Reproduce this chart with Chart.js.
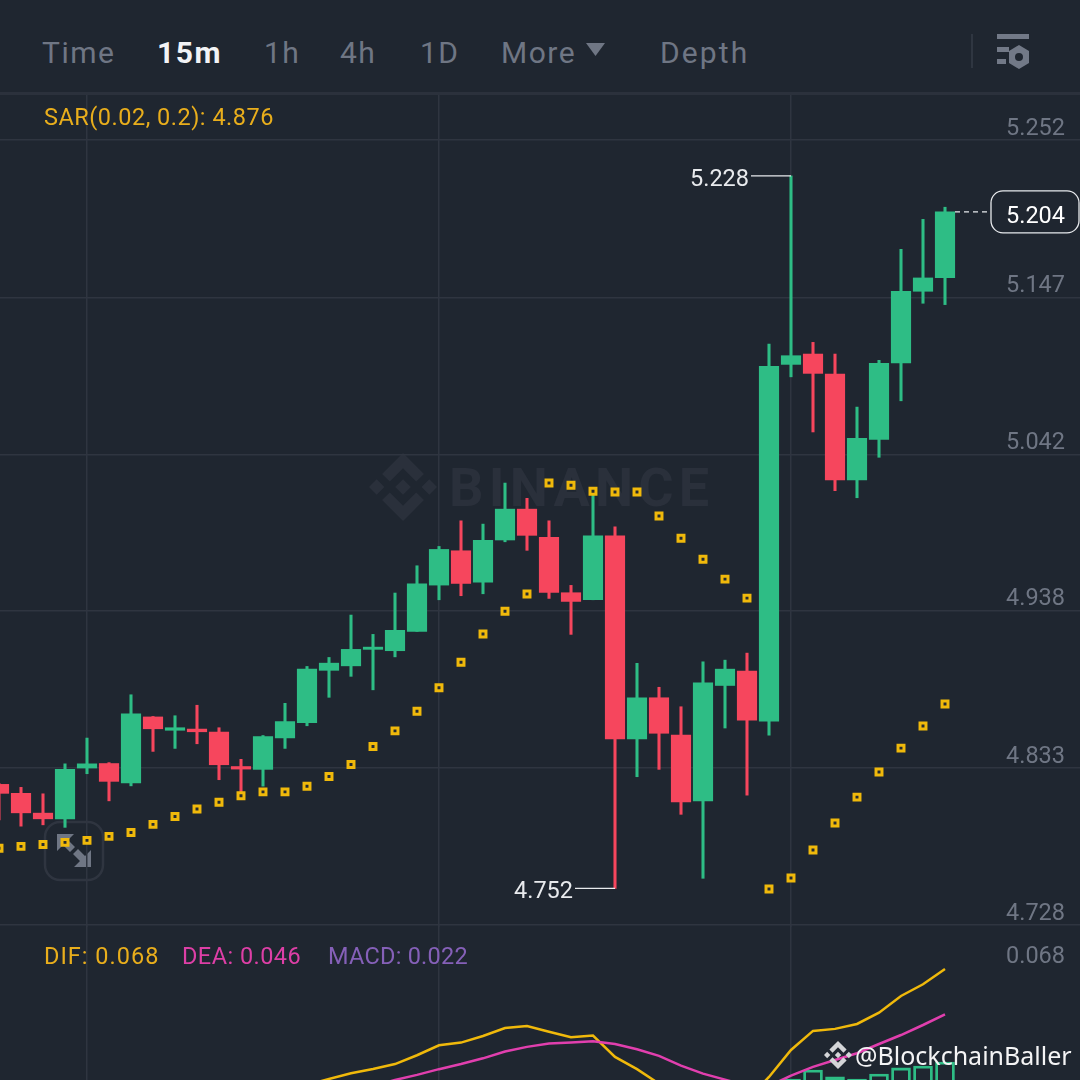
<!DOCTYPE html>
<html>
<head>
<meta charset="utf-8">
<title>15m chart</title>
<script src="https://cdn.jsdelivr.net/npm/chart.js@4/dist/chart.umd.js"></script>
<style>
    html, body { margin: 0; padding: 0; width: 1080px; height: 1080px; overflow: hidden; background: #1f2630; }
    body { position: relative; font-family: Roboto, sans-serif; }
    canvas { position: absolute; left: 0; z-index: 2; }
    .lbl { position: absolute; white-space: nowrap; z-index: 3; line-height: 1; }
    .tab { font-size: 30px; color: #6f7684; letter-spacing: 1.5px; top: 38px; }
    .legend { font-size: 23.5px; letter-spacing: .25px; }
    .sep { position: absolute; left: 0; top: 92px; width: 1080px; height: 3px; background: #2b313c; }
    .wm { position: absolute; z-index: 1; }
</style>
</head>
<body>
<div class="lbl tab" style="left:42px">Time</div>
<div class="lbl tab" style="left:157px;color:#f2f3f5;font-weight:700">15m</div>
<div class="lbl tab" style="left:264px">1h</div>
<div class="lbl tab" style="left:340px">4h</div>
<div class="lbl tab" style="left:420px">1D</div>
<div class="lbl tab" style="left:501px">More</div>
<div class="lbl tab" style="left:660px;letter-spacing:2.100px">Depth</div>
<svg class="lbl" style="left:580px;top:36px" width="30" height="24"><path d="M6 7h19l-9.500 13z" fill="#6f7684"/></svg>
<div class="sep"></div>
<div style="position:absolute;left:971px;top:34px;width:2px;height:34px;background:#2f3641"></div>
<svg class="lbl" style="left:995px;top:32px" width="38" height="38" viewBox="0 0 38 38">
    <path d="M2 2h32v5H2zM2 15h12v5H2zM2 27h9v5H2z" fill="#727987"/>
    <path fill-rule="evenodd" d="M24 13l10 6v12l-10 6-10-6V19zM24 21a4 4 0 1 0 0 8 4 4 0 0 0 0-8z" fill="#727987"/>
</svg>

<div class="lbl legend" style="left:44px;top:106px;color:#e9ae1c;letter-spacing:.5px">SAR(0.02, 0.2): 4.876</div>
<div class="lbl legend" style="left:44px;top:945px;color:#e9ae1c;letter-spacing:1px">DIF: 0.068</div>
<div class="lbl legend" style="left:182px;top:945px;color:#dd3fa6;letter-spacing:.45px">DEA: 0.046</div>
<div class="lbl legend" style="left:328px;top:945px;color:#8560b8">MACD: 0.022</div>

<svg class="wm" style="left:369px;top:453px" width="68" height="68" viewBox="0 0 126.610 126.610">
    <path fill="#2a303b" d="M38.730 53.200l24.590-24.580 24.600 24.600 14.300-14.310L63.320 0 24.420 38.900zM0 63.310l14.300-14.310 14.310 14.310-14.310 14.300zM38.730 73.410l24.590 24.590 24.600-24.600 14.310 14.290-38.900 38.910-38.910-38.880zM98 63.310l14.300-14.310 14.310 14.300-14.310 14.320zM77.830 63.300L63.320 48.780 52.590 59.510l-1.240 1.230-2.540 2.540 14.510 14.500 14.510-14.470z"/>
</svg>
<div class="wm" style="left:449px;top:461px;font-size:54px;line-height:54px;font-weight:700;letter-spacing:5.2px;color:#2a303b">BINANCE</div>

<svg class="wm" style="left:42px;top:819px" width="64" height="64" viewBox="0 0 64 64">
    <rect x="3" y="3" width="58" height="58" rx="15" fill="none" stroke="#2f3540" stroke-width="2.500"/>
    <path d="M15 15h17l-6 6 7 7-5 5-7-7-6 6zM49 48H32l6-6-7-7 5-5 7 7 6-6z" fill="#6f7684"/>
</svg>

<canvas id="priceChart" width="1080" height="832" style="top:95px"></canvas>
<canvas id="macdChart" width="1080" height="155" style="top:925px"></canvas>

<svg class="lbl" style="left:824px;top:1041px;z-index:4" width="28" height="28" viewBox="0 0 126.610 126.610">
    <path fill="#d4d5d8" d="M38.730 53.200l24.590-24.580 24.600 24.600 14.300-14.310L63.320 0 24.420 38.900zM0 63.310l14.300-14.310 14.310 14.310-14.310 14.300zM38.730 73.410l24.590 24.590 24.600-24.600 14.310 14.290-38.900 38.910-38.910-38.880zM98 63.310l14.300-14.310 14.310 14.300-14.310 14.320zM77.830 63.300L63.320 48.780 52.590 59.510l-1.240 1.230-2.540 2.540 14.510 14.500 14.510-14.470z"/>
</svg>
<div class="lbl" style="left:855px;top:1043px;z-index:4;font-family:'Noto Sans';font-size:25px;color:#f4f4f5">@BlockchainBaller</div>

<script>
const opens = [4.8219, 4.8159, 4.8027, 4.7989, 4.8328, 4.8358, 4.8229, 4.8669, 4.8580, 4.8588, 4.8568,
    4.8338, 4.8319, 4.8529, 4.8630, 4.8980, 4.9010, 4.9120, 4.9111, 4.9240, 4.9549, 4.9778,
    4.9569, 4.9850, 5.0056, 4.9868, 4.9498, 4.9451, 4.9878, 4.8522, 4.8797, 4.8548, 4.8109,
    4.8879, 4.8975, 4.8641, 5.1022, 5.1091, 5.0958, 5.0251, 5.0522, 5.1031, 5.1510, 5.1601];
const closes = [4.8159, 4.8029, 4.7989, 4.8319, 4.8356, 4.8239, 4.8689, 4.8590, 4.8597, 4.8570, 4.8350,
    4.8321, 4.8538, 4.8638, 4.8988, 4.9028, 4.9120, 4.9135, 4.9247, 4.9558, 4.9787, 4.9560,
    4.9848, 5.0056, 4.9881, 4.9500, 4.9440, 4.9878, 4.8522, 4.8797, 4.8560, 4.8101, 4.8897,
    4.8988, 4.8648, 5.1009, 5.1080, 5.0962, 5.0251, 5.0529, 5.1029, 5.1510, 5.1599, 5.2040];
const highs = [4.8224, 4.8199, 4.8156, 4.8356, 4.8528, 4.8364, 4.8817, 4.8672, 4.8677, 4.8747, 4.8597,
    4.8386, 4.8545, 4.8760, 4.9006, 4.9066, 4.9349, 4.9220, 4.9496, 4.9678, 4.9807, 4.9978,
    4.9956, 5.0230, 5.0128, 4.9978, 4.9547, 5.0164, 4.9938, 4.9027, 4.8867, 4.8737, 4.9037,
    4.9048, 4.9095, 5.1158, 5.2280, 5.1169, 5.1091, 5.0737, 5.1049, 5.1790, 5.1990, 5.2071];
const lows = [4.7981, 4.7940, 4.7949, 4.7932, 4.8290, 4.8109, 4.8209, 4.8439, 4.8459, 4.8490, 4.8250,
    4.8159, 4.8207, 4.8459, 4.8610, 4.8800, 4.8940, 4.8850, 4.9070, 4.9240, 4.9451, 4.9478,
    4.9491, 4.9838, 4.9781, 4.9460, 4.9220, 4.9451, 4.7525, 4.8270, 4.8319, 4.8019, 4.7592,
    4.8595, 4.8147, 4.8548, 5.0939, 5.0571, 5.0179, 5.0132, 5.0402, 5.0779, 5.1430, 5.1421];
const sarValues = [4.7792, 4.7805, 4.7818, 4.7832, 4.7845, 4.7872, 4.7898, 4.7952, 4.8005, 4.8054, 4.8099,
    4.8143, 4.8169, 4.8169, 4.8207, 4.8272, 4.8352, 4.8472, 4.8576, 4.8707, 4.8864, 4.9034,
    4.9222, 4.9374, 4.9490, 5.0230, 5.0215, 5.0175, 5.0170, 5.0170, 5.0010, 4.9861, 4.9721,
    4.9589, 4.9462, 4.7520, 4.7594, 4.7781, 4.7961, 4.8134, 4.8301, 4.8461, 4.8608, 4.8755];
const difValues = [null, null, null, null, null, null, null, null, null, null, null,
    null, null, null, 0.0113, 0.0142, 0.0170, 0.0191, 0.0215, 0.0258, 0.0307, 0.0320,
    0.0352, 0.0391, 0.0401, 0.0373, 0.0346, 0.0354, 0.0250, 0.0190, 0.0119, 0.0054, 0.0010,
    -0.0009, 0.0039, 0.0152, 0.0284, 0.0377, 0.0387, 0.0411, 0.0466, 0.0548, 0.0605, 0.0680];
const deaValues = [null, null, null, null, null, null, null, null, null, null, null,
    null, null, null, null, null, null, 0.0108, 0.0137, 0.0162, 0.0190, 0.0215,
    0.0243, 0.0276, 0.0299, 0.0315, 0.0320, 0.0326, 0.0313, 0.0287, 0.0255, 0.0207, 0.0168,
    0.0139, 0.0108, 0.0108, 0.0158, 0.0201, 0.0235, 0.0268, 0.0313, 0.0357, 0.0406, 0.0458];
const macdValues = [null, null, null, null, null, null, null, null, null, null, null,
    null, null, null, null, null, null, null, null, null, null, null,
    null, null, null, null, null, null, null, null, null, null, null,
    null, null, null, 0.0142, 0.0186, 0.0152, 0.0142, 0.0166, 0.0196, 0.0205, 0.0225];

const priceTicks = [5.252, 5.147, 5.042, 4.938, 4.833, 4.728];
const macdTicks = [0.068];
const timeGridIndexes = [4, 20, 36];
const highMark = { index: 36, value: 5.228 };
const lowMark = { index: 28, value: 4.7525, label: '4.752' };
const lastPrice = { index: 43, value: 5.204 };

const GREEN = '#2ebd85';
const RED = '#f6465d';
const GOLD = '#f0b90b';
const PINK = '#e13fae';
const GRID = '#2f3540';
const TICK_COLOR = '#6f7684';
const MARK_COLOR = '#e8eaed';
const BG = '#1f2630';
const TICK_FONT = { family: 'Roboto', size: 23.5 };

// marks run right up to the canvas edge here, no inset for point or line overflow
['line', 'scatter'].forEach(type => {
    Chart.registry.getController(type).prototype.getMaxOverflow = () => 0;
});

function pointsFrom(values) {
    return values.map((y, x) => ({ x, y })).filter(p => p.y !== null);
}

function xScale() {
    return {
        type: 'linear',
        min: 1 / 22,
        max: 1081 / 22,
        offset: false,
        border: { display: false },
        ticks: { display: false },
        grid: { color: GRID, lineWidth: 1.5, drawTicks: false, offset: false },
        afterBuildTicks: scale => { scale.ticks = timeGridIndexes.map(value => ({ value })); }
    };
}

function yScale(min, max, tickValues, showGrid, labelOffset) {
    return {
        position: 'right',
        min,
        max,
        beginAtZero: false,
        border: { display: false },
        grid: { display: showGrid, color: GRID, lineWidth: 1.5, drawTicks: false },
        ticks: {
            mirror: true,
            padding: -15,
            labelOffset,
            color: TICK_COLOR,
            font: TICK_FONT,
            callback: value => value.toFixed(3)
        },
        afterBuildTicks: scale => { scale.ticks = tickValues.map(value => ({ value })); },
        afterFit: scale => {
            scale.width = 0;
            scale.paddingTop = 0;
            scale.paddingBottom = 0;
        }
    };
}

// high/low callouts and the current price tag
const marksPlugin = {
    id: 'marks',
    afterDatasetsDraw(chart) {
        const { ctx, scales: { x, y } } = chart;
        ctx.save();
        ctx.font = '23.5px Roboto';
        ctx.textBaseline = 'middle';
        ctx.strokeStyle = MARK_COLOR;
        ctx.fillStyle = MARK_COLOR;
        ctx.lineWidth = 1.3;

        [highMark, lowMark].forEach(mark => {
            const px = x.getPixelForValue(mark.index);
            const py = y.getPixelForValue(mark.value);
            ctx.beginPath();
            ctx.moveTo(px - 40, py);
            ctx.lineTo(px, py);
            ctx.stroke();
            ctx.textAlign = 'right';
            ctx.fillText(mark.label || mark.value.toFixed(3), px - 42, py + 4);
        });

        const tagY = y.getPixelForValue(lastPrice.value);
        ctx.setLineDash([5, 4]);
        ctx.beginPath();
        ctx.moveTo(x.getPixelForValue(lastPrice.index) + 10, tagY);
        ctx.lineTo(991, tagY);
        ctx.stroke();
        ctx.setLineDash([]);

        ctx.fillStyle = BG;
        ctx.beginPath();
        ctx.roundRect(991, tagY - 21, 88, 42, 12);
        ctx.fill();
        ctx.stroke();
        ctx.fillStyle = '#ffffff';
        ctx.textAlign = 'right';
        ctx.fillText(lastPrice.value.toFixed(3), 1065, tagY + 5);
        ctx.restore();
    }
};

function initPriceChart() {
    const wicks = lows.map((low, i) => ({ x: i, y: [low, highs[i]] }));
    const bodies = opens.map((open, i) => ({ x: i, y: [open, closes[i]] }));
    const candleColor = c => closes[c.dataIndex] >= opens[c.dataIndex] ? GREEN : RED;

    return new Chart(document.getElementById('priceChart'), {
        type: 'bar',
        data: {
            datasets: [
                {
                    type: 'scatter',
                    data: pointsFrom(sarValues),
                    order: 0,
                    pointStyle: 'rect',
                    pointRadius: 4.2,
                    pointBorderWidth: 3,
                    pointBorderColor: GOLD,
                    pointBackgroundColor: '#262a2e'
                },
                { data: bodies, order: 1, grouped: false, barThickness: 19.5, backgroundColor: candleColor },
                { data: wicks, order: 2, grouped: false, barThickness: 2.4, backgroundColor: candleColor }
            ]
        },
        options: {
            responsive: false,
            animation: false,
            devicePixelRatio: 1,
            layout: { padding: 0 },
            plugins: { legend: { display: false }, tooltip: { enabled: false } },
            scales: {
                x: xScale(),
                y: yScale(4.7267, 5.2820, priceTicks, true, -11)
            }
        },
        plugins: [marksPlugin]
    });
}

function initMacdChart() {
    const isFalling = i => macdValues[i - 1] !== null && macdValues[i] < macdValues[i - 1];

    return new Chart(document.getElementById('macdChart'), {
        type: 'bar',
        data: {
            datasets: [
                { type: 'line', data: pointsFrom(deaValues), order: 0, borderColor: PINK, borderWidth: 2.5, pointRadius: 0, tension: 0 },
                { type: 'line', data: pointsFrom(difValues), order: 1, borderColor: GOLD, borderWidth: 2.5, pointRadius: 0, tension: 0 },
                {
                    data: pointsFrom(macdValues),
                    order: 2,
                    grouped: false,
                    barThickness: 19,
                    borderWidth: 2.2,
                    borderSkipped: false,
                    borderColor: GREEN,
                    backgroundColor: c => isFalling(c.raw.x) ? GREEN : 'rgba(0,0,0,0)'
                }
            ]
        },
        options: {
            responsive: false,
            animation: false,
            devicePixelRatio: 1,
            layout: { padding: 0 },
            plugins: { legend: { display: false }, tooltip: { enabled: false } },
            scales: {
                x: xScale(),
                y: yScale(0.0137, 0.0895, macdTicks, false, -12)
            }
        }
    });
}

document.addEventListener('DOMContentLoaded', () => {
    initPriceChart();
    initMacdChart();
});
</script>
</body>
</html>
